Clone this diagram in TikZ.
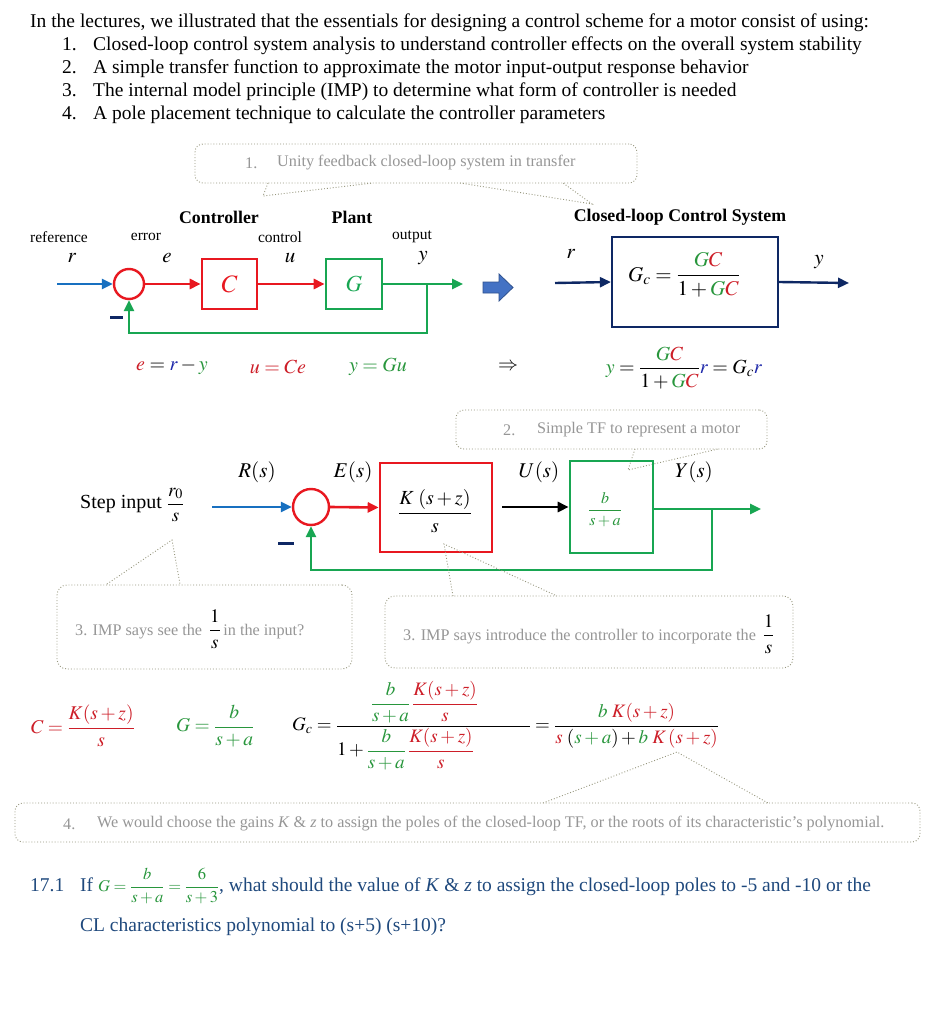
\documentclass[tikz,border=0pt]{standalone}
\usepackage{amsmath}
\usepackage{mathptmx}
\usepackage[no-math]{fontspec}
\setmainfont{Liberation Serif}
\usetikzlibrary{arrows.meta,calc}
\definecolor{cred}{RGB}{232,24,32}
\definecolor{cgreen}{RGB}{24,166,82}
\definecolor{cblue}{RGB}{24,112,192}
\definecolor{cnavy}{RGB}{14,40,100}
\definecolor{tgray}{RGB}{150,150,150}
\definecolor{cobord}{RGB}{150,150,125}
\definecolor{mred}{RGB}{205,30,40}
\definecolor{mgreen}{RGB}{40,150,60}
\definecolor{mblue}{RGB}{30,40,170}
\definecolor{qblue}{RGB}{31,73,125}
\definecolor{arrfill}{RGB}{68,114,196}
\definecolor{arredge}{RGB}{47,82,143}
\newcommand{\fs}[1]{\fontsize{#1}{#1}\selectfont}
\begin{document}
\begin{tikzpicture}[x=1pt,y=-1pt,
  callout/.style={draw=cobord, dotted, line width=0.9pt, rounded corners=8pt, inner sep=0},
  tail/.style={draw=cobord, dotted, line width=0.9pt},
  ctext/.style={text=tgray, font=\fs{16.2}, inner sep=0, anchor=west},
  sumnode/.style={circle, draw=cred, line width=2.4pt, inner sep=0},
  blk/.style={draw, line width=2.6pt, inner sep=0},
  sig/.style={line width=2.6pt, -{Triangle[length=11pt,width=10pt]}},
  lab/.style={font=\fs{15.5}, inner sep=0},
  blab/.style={font=\bfseries\fs{17.8}, inner sep=0},
  mlab/.style={font=\fs{21}, inner sep=0},
  intro/.style={font=\fs{19.5}, inner sep=0, anchor=base west},
  minus/.style={fill=cnavy, minimum width=13pt, minimum height=3pt, inner sep=0}
]
\useasboundingbox[fill=white] (0,0) rectangle (938,1024);

% ---------- intro text ----------
\node[intro] (t0) at (30,28) {In the lectures, we illustrated that the essentials for designing a control scheme for a motor consist of using:};
\node[intro] (n1) at (62,51) {1.};
\node[intro] (t1) at (93,51) {Closed-loop control system analysis to understand controller effects on the overall system stability};
\node[intro] (n2) at (62,74) {2.};
\node[intro] (t2) at (93,74) {A simple transfer function to approximate the motor input-output response behavior};
\node[intro] (n3) at (62,97) {3.};
\node[intro] (t3) at (93,97) {The internal model principle (IMP) to determine what form of controller is needed};
\node[intro] (n4) at (62,120) {4.};
\node[intro] (t4) at (93,120) {A pole placement technique to calculate the controller parameters};

% ---------- callout 1 ----------
\node[callout, minimum width=442pt, minimum height=39pt] (co1) at (416,163.5) {};
\node[ctext] (co1n) at (245,163) {1.};
\node[ctext] (co1t) at (277,163) {Unity feedback closed-loop system in transfer};
\coordinate (tip1a) at (263,196);
\coordinate (tip1b) at (592,204);
\draw[tail] (268,183) -- (tip1a) -- (373,183);
\draw[tail] (460,183) -- (tip1b) -- (563,183);

% ---------- diagram 1 ----------
\node[blab] (lctrl) at (219,217) {Controller};
\node[blab] (lplant) at (352,217) {Plant};
\node[blab] (lcl) at (680,217) {Closed-loop Control System};
\node[lab] (lref) at (59,237) {reference};
\node[lab] (lerr) at (146,237) {error};
\node[lab] (lcon) at (280,237) {control};
\node[lab] (lout) at (412,237) {output};
\node[mlab] (mr) at (72,258) {$r$};
\node[mlab] (me) at (167,258) {$e$};
\node[mlab] (mu) at (290,258) {$u$};
\node[mlab] (my) at (423,258) {$y$};

\node[sumnode, minimum size=30pt] (s1) at (129,284) {};
\node[blk, draw=cred, minimum width=55pt, minimum height=50pt] (C) at (229.5,284) {\fs{25}$\color{cred}C$};
\node[blk, draw=cgreen, minimum width=56pt, minimum height=50pt] (G) at (354,284) {\fs{23}$\color{cgreen}G$};
\coordinate (in1) at (57,284);
\coordinate (out1) at (463,284);
\coordinate (br1) at (427,284);
\coordinate (fb1) at (427,333);
\draw[sig, draw=cblue] (in1) -- (s1.west);
\draw[sig, draw=cred] (s1.east) -- (C.west);
\draw[sig, draw=cred] (C.east) -- (G.west);
\draw[sig, draw=cgreen] (G.east) -- (out1);
\draw[sig, draw=cgreen] (br1) -- (fb1) -| (s1.south);
\node[minus] (m1) at (116.5,317.5) {};

% fat arrow
\draw[fill=arrfill, draw=arredge, line width=0.8pt] (483,282) -- (499,282) -- (499,274) -- (513,287.5) -- (499,301) -- (499,293) -- (483,293) -- cycle;

% closed-loop block
\node[blk, draw=cnavy, minimum width=166pt, minimum height=90pt, line width=2.2pt] (CL) at (695,282) {};
\node[inner sep=0] (gcf) at (684,275) {\fs{21}$G_c=\dfrac{{\color{mgreen}G}{\color{mred}C}}{1+{\color{mgreen}G}{\color{mred}C}}$};
\node[mlab] (mr2) at (571,254) {$r$};
\node[mlab] (my2) at (819,262) {$y$};
\coordinate (in2) at (555,283);
\coordinate (out2) at (849,283);
\draw[sig, draw=cnavy, line width=2.4pt] (in2) -- (CL.west);
\draw[sig, draw=cnavy, line width=2.4pt] (CL.east) -- (out2);

% equations row 1
\node[inner sep=0] (eq1) at (172,367) {\fs{20}${\color{mred}e}={\color{mblue}r}-{\color{mgreen}y}$};
\node[inner sep=0] (eq2) at (278,367) {\fs{20}$\color{mred}u=Ce$};
\node[inner sep=0] (eq3) at (378,367) {\fs{20}$\color{mgreen}y=Gu$};
\node[inner sep=0] (eq4) at (508,367) {\fs{20}$\Rightarrow$};
\node[inner sep=0] (eq5) at (684,368) {\fs{20}${\color{mgreen}y}=\dfrac{{\color{mgreen}G}{\color{mred}C}}{1+{\color{mgreen}G}{\color{mred}C}}{\color{mblue}r}=G_c{\color{mblue}r}$};

% ---------- callout 2 ----------
\node[callout, minimum width=311pt, minimum height=39pt] (co2) at (611.5,429.5) {};
\node[ctext] (co2n) at (503,430) {2.};
\node[ctext] (co2t) at (537,430) {Simple TF to represent a motor};
\coordinate (tip2) at (628,470);
\draw[tail] (635,449) -- (tip2) -- (718,449);

% ---------- diagram 2 ----------
\node[mlab] (lR) at (257,472) {$R(s)$};
\node[mlab] (lE) at (353,472) {$E(s)$};
\node[mlab] (lU) at (539,472) {$U(s)$};
\node[mlab] (lY) at (694,472) {$Y(s)$};
\node[inner sep=0, anchor=west] (step) at (80,505) {\fs{20}Step input \fs{19}$\dfrac{r_0}{s}$};

\node[sumnode, minimum size=36pt] (s2) at (311,507) {};
\node[blk, draw=cred, minimum width=112pt, minimum height=89pt] (KB) at (436,507.5) {};
\node[inner sep=0] (kbf) at (435,511) {\fs{20}$\dfrac{K\,\left(s+z\right)}{s}$};
\node[blk, draw=cgreen, minimum width=83pt, minimum height=92pt] (PB) at (611.5,507) {};
\node[inner sep=0] (pbf) at (605,510) {\fs{16}$\color{mgreen}\dfrac{b}{s+a}$};
\coordinate (in3) at (212,507);
\coordinate (u0) at (502,507);
\coordinate (out3) at (761,509);
\coordinate (br3) at (712,509);
\coordinate (fb3) at (712,570);
\draw[sig, draw=cblue] (in3) -- (s2.west);
\draw[sig, draw=cred] (s2.east) -- (KB.west);
\draw[sig, draw=black] (u0) -- (PB.west);
\draw[sig, draw=cgreen] (PB.east |- out3) -- (out3);
\draw[sig, draw=cgreen] (br3) -- (fb3) -| (s2.south);
\node[minus, minimum width=16pt] (m2) at (286,543) {};

% ---------- callout 3a ----------
\node[callout, minimum width=295pt, minimum height=84pt, rounded corners=10pt] (co3a) at (204.5,627) {};
\coordinate (tip3a) at (172,540);
\draw[tail] (107,584) -- (tip3a) -- (180,584);
\node[inner sep=0, anchor=west] (co3at) at (75,629) {\fs{16.2}\color{tgray}3. IMP says see the \,{\color{black}\fs{19}$\dfrac{1}{s}$}\,in the input?};

% ---------- callout 3b ----------
\node[callout, minimum width=408pt, minimum height=72pt, rounded corners=10pt] (co3b) at (589,632) {};
\coordinate (tip3b) at (444,544);
\draw[tail] (453,596) -- (tip3b) -- (557,596);
\node[inner sep=0, anchor=west] (co3bt) at (403,634) {\fs{16.2}\color{tgray}3. IMP says introduce the controller to incorporate the \,{\color{black}\fs{19}$\dfrac{1}{s}$}};

% ---------- equations row 2 ----------
\node[inner sep=0, anchor=west] (eqC) at (31,726) {\fs{19.5}$\color{mred}C=\dfrac{K(s+z)}{s}$};
\node[inner sep=0, anchor=west] (eqG) at (176,726) {\fs{19.5}$\color{mgreen}G=\dfrac{b}{s+a}$};
\node[inner sep=0, anchor=west] (eqGc) at (292,726) {\fs{19}$G_c=\dfrac{\hspace{30pt}{\color{mgreen}\dfrac{b}{s+a}}\,{\color{mred}\dfrac{K(s+z)}{s}}\hspace{48pt}}{1+{\color{mgreen}\dfrac{b}{s+a}}\,{\color{mred}\dfrac{K(s+z)}{s}}\hspace{56pt}}=\dfrac{{\color{mgreen}b}\;{\color{mred}K(s+z)}}{{\color{mred}s}\,\left({\color{mgreen}s+a}\right)+{\color{mgreen}b}\;{\color{mred}K\,(s+z)}}$};

% ---------- callout 4 ----------
\node[callout, minimum width=905pt, minimum height=39pt] (co4) at (467.5,822.5) {};
\coordinate (tip4) at (677,752);
\draw[tail] (543,803) -- (tip4) -- (768,803);
\node[ctext] (co4n) at (63,824) {4.};
\node[ctext] (co4t) at (97,824) {We would choose the gains \textit{K} \& \textit{z} to assign the poles of the closed-loop TF, or the roots of its characteristic’s polynomial.};

% ---------- question ----------
\node[intro, text=qblue] (q0) at (30,891) {17.1};
\node[intro, text=qblue] (q1) at (80,891) {If {\color{mgreen}\fs{16.5}$G=\dfrac{b}{s+a}=\dfrac{6}{s+3}$}, what should the value of \textit{K} \& \textit{z} to assign the closed-loop poles to -5 and -10 or the};
\node[intro, text=qblue] (q2) at (80,931) {CL characteristics polynomial to (s+5) (s+10)?};
\end{tikzpicture}
\end{document}
